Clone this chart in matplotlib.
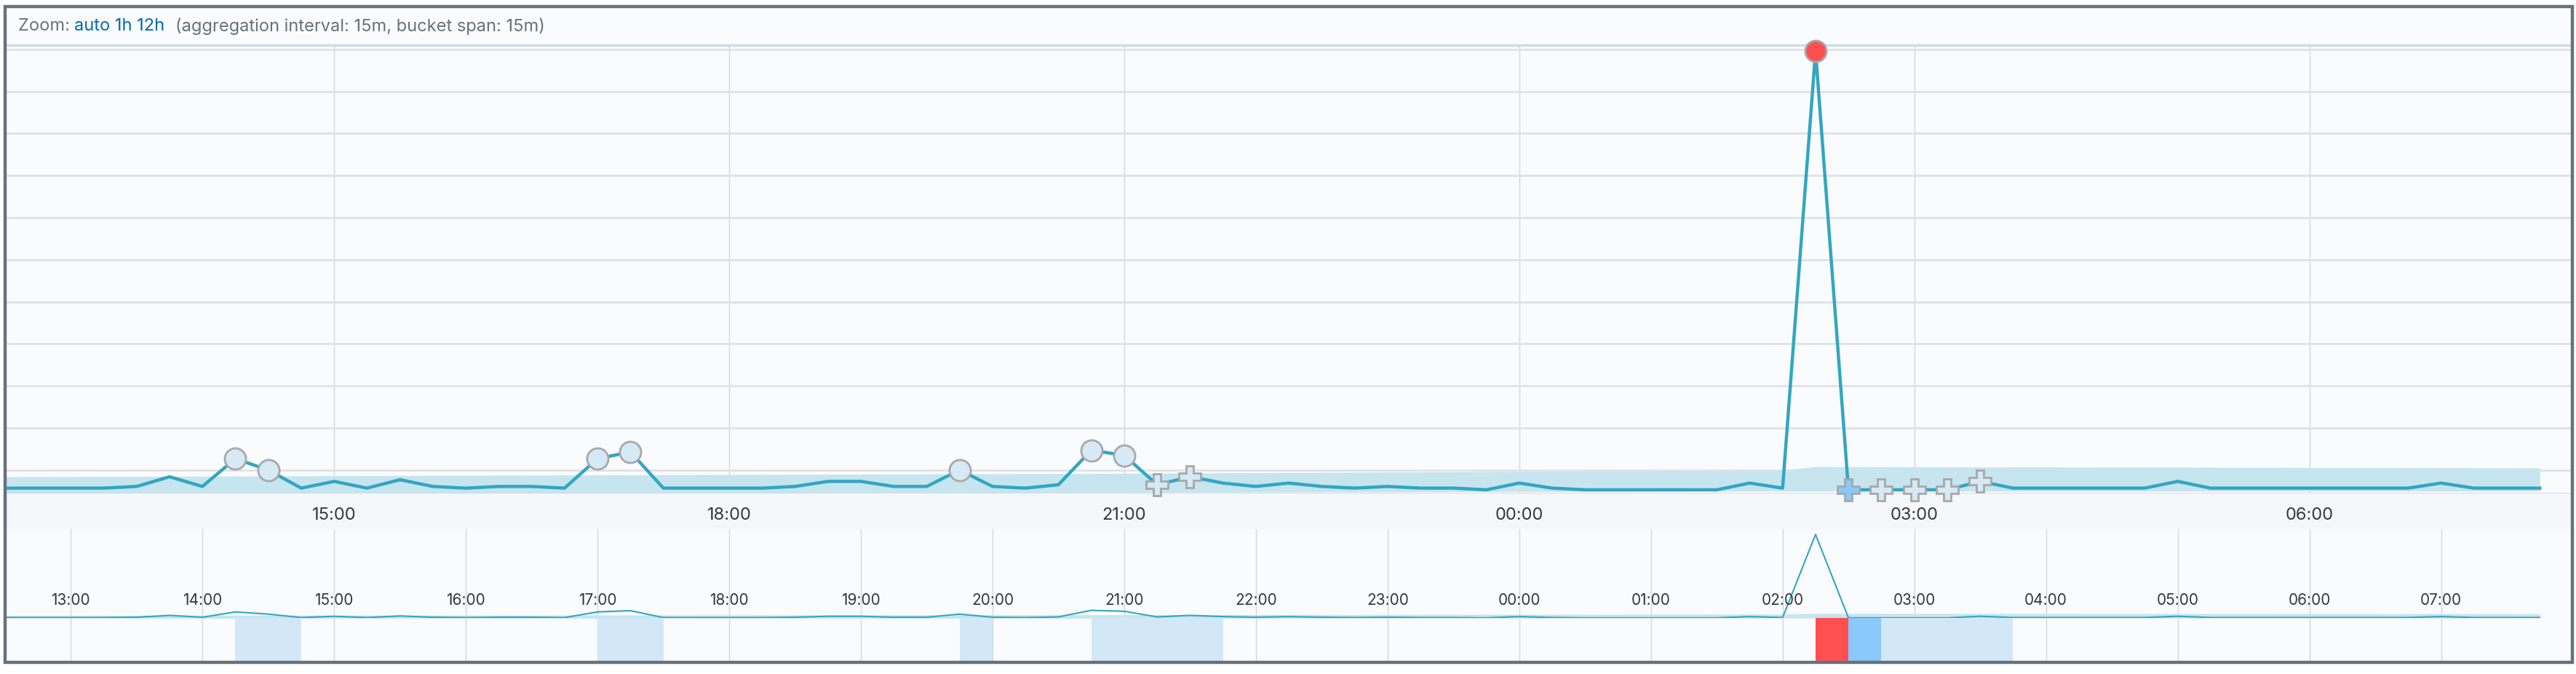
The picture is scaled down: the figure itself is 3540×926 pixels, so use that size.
import matplotlib

matplotlib.use("Agg")
import matplotlib.pyplot as plt
from matplotlib.patches import Rectangle

plt.rcParams["font.family"] = ["Inter", "DejaVu Sans"]

# data, one value per 15 minute bucket from 12:30 to 07:45
START = "12:30"
values = [
    0.57, 0.57, 0.57, 0.57, 0.61, 0.84, 0.61, 1.27, 1.00, 0.57,
    0.73, 0.57, 0.77, 0.61, 0.57, 0.61, 0.61, 0.57, 1.27, 1.43,
    0.57, 0.57, 0.57, 0.57, 0.61, 0.73, 0.73, 0.61, 0.61, 1.00,
    0.61, 0.57, 0.65, 1.47, 1.35, 0.65, 0.84, 0.69, 0.61, 0.69,
    0.61, 0.57, 0.61, 0.57, 0.57, 0.53, 0.69, 0.57, 0.53, 0.53,
    0.53, 0.53, 0.53, 0.69, 0.57, 10.96, 0.53, 0.53, 0.53, 0.53,
    0.73, 0.57, 0.57, 0.57, 0.57, 0.57, 0.73, 0.57, 0.57, 0.57,
    0.57, 0.57, 0.57, 0.57, 0.69, 0.57, 0.57, 0.57,
]
band_times = ["12:30", "21:00", "02:00", "02:15", "07:45"]
band_upper = [0.84, 0.92, 1.00, 1.08, 1.05]
band_lower = [0.45, 0.47, 0.50, 0.50, 0.50]

circle_times = ["14:15", "14:30", "17:00", "17:15", "19:45", "20:45", "21:00"]
cross_times = ["21:15", "21:30", "02:45", "03:00", "03:15", "03:30"]
cross_blue_times = ["02:30"]
critical_times = ["02:15"]

main_ticks = ["15:00", "18:00", "21:00", "00:00", "03:00", "06:00"]
context_ticks = ["13:00", "14:00", "15:00", "16:00", "17:00", "18:00", "19:00",
                 "20:00", "21:00", "22:00", "23:00", "00:00", "01:00", "02:00",
                 "03:00", "04:00", "05:00", "06:00", "07:00"]

lane_starts = ["14:15", "17:00", "19:45", "20:45", "02:15", "02:30", "02:45"]
lane_ends = ["14:45", "17:30", "20:00", "21:45", "02:30", "02:45", "03:45"]
lane_colors = ["#d2e8f6", "#d2e8f6", "#d2e8f6", "#d2e8f6", "#fe5050", "#8bc8fb", "#d2e8f6"]

LINE = "#32a6c2"
BAND = "#c6e5ef"
GRID = "#e0e2e6"
TEXT = "#343741"


def hours(label):
    h, m = (int(p) for p in label.split(":"))
    h = h + m / 60
    return h + 24 if h < 12 else h


def ht(label_list):
    return [hours(t) for t in label_list]


times = [hours(START) + 0.25 * i for i in range(len(values))]
value_at = dict(zip(times, values))
XMIN, XMAX = 12.5, 32.0

W, H = 1568.0, 410.0


def box(x0, y0, x1, y1):
    return [x0 / W, 1 - y1 / H, (x1 - x0) / W, (y1 - y0) / H]


fig = plt.figure(figsize=(35.4, 9.26), dpi=100)
fig.patch.set_facecolor("white")
fig.add_artist(Rectangle((3 / W, 1 - 403 / H), 1563 / W, 399 / H,
                         transform=fig.transFigure, facecolor="#fafbfd",
                         edgecolor="none", zorder=-5))
fig.add_artist(Rectangle((3 / W, 1 - 322 / H), 1563 / W, 22 / H,
                         transform=fig.transFigure, facecolor="#f5f7fa",
                         edgecolor="none", zorder=-4))
fig.add_artist(Rectangle((3 / W, 1 - 403 / H), 1563 / W, 399 / H,
                         transform=fig.transFigure, facecolor="none",
                         edgecolor="#69707d", linewidth=3.2, zorder=10))
fig.add_artist(plt.Line2D([3 / W, 1566 / W], [1 - 27.5 / H] * 2,
                          transform=fig.transFigure, color="#d3dae6", lw=2.5, zorder=-3))

tx, ty = 11 / W, 1 - 16 / H
t1 = fig.text(tx, ty, "Zoom: ", color="#69707d", fontsize=17, va="center")
fig.canvas.draw()
r = fig.canvas.get_renderer()
bb = t1.get_window_extent(r)
t2 = fig.text(bb.x1 / fig.bbox.width, ty, "auto 1h 12h", color="#006bb4", fontsize=17, va="center")
bb2 = t2.get_window_extent(r)
fig.text(bb2.x1 / fig.bbox.width + 0.004, ty, "(aggregation interval: 15m, bucket span: 15m)",
         color="#69707d", fontsize=17, va="center")

# main chart
ax = fig.add_axes(box(3, 28, 1566, 300))
ax.set_facecolor("none")
ax.fill_between(ht(band_times), band_lower, band_upper, color=BAND, lw=0, zorder=1)
ax.plot(times, values, color=LINE, lw=3.2, zorder=3)
ax.set_xlim(XMIN, XMAX)
ax.set_ylim(0.45, 11.08)
ax.set_yticks(range(1, 12))
ax.set_xticks(ht(main_ticks))
ax.set_xticklabels(main_ticks, color=TEXT, fontsize=17)
ax.grid(True, axis="y", color=GRID, lw=2)
ax.grid(True, axis="x", color="#d4d6da", lw=1)
ax.set_axisbelow(True)
ax.tick_params(left=False, labelleft=False, length=0, pad=14)
for s in ax.spines.values():
    s.set_visible(False)
ax.axhline(0.45, color="#d3dae6", lw=2)

mk = dict(linestyle="none", markersize=21, markeredgecolor="#a8a8a8",
          markeredgewidth=2, zorder=5, clip_on=False)
ax.plot(ht(circle_times), [value_at[t] for t in ht(circle_times)], "o",
        markerfacecolor="#d6e9f5", **mk)
ax.plot(ht(cross_times), [value_at[t] for t in ht(cross_times)], "P",
        markerfacecolor="#d6e9f5", **mk)
ax.plot(ht(cross_blue_times), [value_at[t] for t in ht(cross_blue_times)], "P",
        markerfacecolor="#8bc8fb", **mk)
ax.plot(ht(critical_times), [value_at[t] for t in ht(critical_times)], "o",
        markerfacecolor="#fe5050", **mk)

# context chart
cx = fig.add_axes(box(3, 322, 1566, 376))
cx.set_facecolor("none")
cx.fill_between(ht(band_times), band_lower, band_upper, color=BAND, lw=0, zorder=1)
cx.plot(times, values, color=LINE, lw=1.5, zorder=3)
cx.set_xlim(XMIN, XMAX)
cx.set_ylim(0.5, 11.6)
cx.set_xticks(ht(context_ticks))
cx.set_yticks([])
cx.grid(True, axis="x", color="#d4d6da", lw=1)
cx.set_axisbelow(True)
for s in cx.spines.values():
    s.set_visible(False)
cx.tick_params(length=0, labelbottom=False)
for t in context_ticks:
    cx.text(hours(t), 0.12, t, transform=cx.get_xaxis_transform(), ha="center",
            va="bottom", fontsize=15, color=TEXT, zorder=4)

sx = fig.add_axes(box(3, 376, 1566, 403))
sx.set_facecolor("none")
sx.set_xlim(XMIN, XMAX)
sx.set_ylim(0, 1)
for a, b, c in zip(lane_starts, lane_ends, lane_colors):
    sx.axvspan(hours(a), hours(b), color=c, lw=0, zorder=1)
sx.set_xticks(ht(context_ticks))
sx.set_yticks([])
sx.grid(True, axis="x", color="#d4d6da", lw=1, zorder=0)
sx.set_axisbelow(True)
sx.tick_params(length=0, labelbottom=False)
for s in sx.spines.values():
    s.set_visible(False)

fig.savefig("out.png", dpi=100, facecolor="white")
